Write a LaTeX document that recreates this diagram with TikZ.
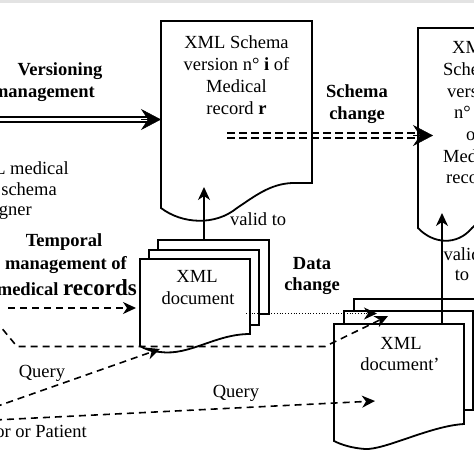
\documentclass[tikz,border=0pt]{standalone}
\usepackage{fontspec}
\setmainfont{Liberation Serif}
\usetikzlibrary{arrows.meta,calc}
\newcommand\myfs{\fontsize{18.5}{22}\selectfont}
\newcommand\mybigfs{\fontsize{23}{22}\selectfont}
\tikzset{
  outl/.style={line width=1.8pt, fill=white, draw=black, line join=miter},
  txt/.style={inner sep=0pt, font=\myfs, anchor=base},
  btxt/.style={inner sep=0pt, font=\myfs\bfseries, anchor=base},
  dashln/.style={line width=1.6pt, dash pattern=on 7pt off 5pt},
  dotln/.style={line width=1pt, dash pattern=on 1pt off 1.8pt},
  smalltip/.style={-{Stealth[length=13pt,width=12pt,inset=4pt]}},
  bigtip/.style={-{Stealth[length=20pt,width=21pt,inset=7pt]}},
}
\begin{document}
\begin{tikzpicture}[x=1pt,y=-1pt]
\useasboundingbox (0,0) rectangle (474,474);
\clip (0,0) rectangle (474,474);
\fill[gray!22] (0,0) rectangle (474,3);

% ---------- schema document i ----------
\draw[outl] (161,21) -- (312,21) -- (312,183) -- (292,183)
  .. controls (270,184) and (255,196) .. (237,208)
  .. controls (215,226) and (182,224) .. (161,208) -- cycle;
% ---------- schema document i+1 ----------
\draw[outl] (418,28) -- (526,28) -- (526,203) -- (512,203)
  .. controls (496,204) and (485,216) .. (472,228)
  .. controls (457,246) and (433,244) .. (418,228) -- cycle;

% ---------- XML document stack ----------
\draw[outl] (158,240) rectangle (269,314);
\draw[outl] (149,250) rectangle (259,325);
\draw[outl] (140,259) -- (250,259) -- (250,334)
  .. controls (215,334) and (190,356) .. (160,352)
  .. controls (150,351) and (145,349) .. (140,346) -- cycle;

% ---------- XML document' stack ----------
\draw[outl] (354,299) rectangle (484,398);
\draw[outl] (344,311) rectangle (473,410);
\draw[outl] (334,324) -- (464,324) -- (464,424)
  .. controls (430,426) and (385,450) .. (365,449)
  .. controls (352,448) and (342,445) .. (334,441) -- cycle;

% ---------- texts ----------
\node[txt] (s1a) at (236.5,48) {XML Schema};
\node[txt] (s1b) at (236.5,70) {version n° \textbf{i} of};
\node[txt] (s1c) at (236.5,92) {Medical};
\node[txt] (s1d) at (236.5,114) {record \textbf{r}};

\node[txt,anchor=base west] (s2a) at (452,53) {XML};
\node[txt,anchor=base west] (s2b) at (443,75) {Schema};
\node[txt,anchor=base west] (s2c) at (447,97) {version};
\node[txt,anchor=base west] (s2d) at (454,118) {n°};
\node[txt,anchor=base west] (s2e) at (466,140) {of};
\node[txt,anchor=base west] (s2f) at (443,162) {Medical};
\node[txt,anchor=base west] (s2g) at (446,183) {record \textbf{r}};

\node[txt] (d1a) at (197,282) {XML};
\node[txt] (d1b) at (198,304) {document};
\node[txt] (d2a) at (401,349) {XML};
\node[txt] (d2b) at (400,370) {document’};

\node[txt,anchor=base west] (val1) at (230,225) {valid to};
\node[txt] (val2a) at (462,260) {valid};
\node[txt] (val2b) at (462,280) {to};

\node[btxt] (vm1) at (60,75) {Versioning};
\node[btxt,anchor=base east] (vm2) at (95,97) {management};

\node[txt,anchor=base east] (ds1) at (69,174) {L medical};
\node[txt,anchor=base east] (ds2) at (57,195) {schema};
\node[txt,anchor=base east] (ds3) at (32,215) {gner};

\node[btxt] (sc1) at (357,97) {Schema};
\node[btxt] (sc2) at (357,119) {change};

\node[btxt] (dc1) at (312,269) {Data};
\node[btxt] (dc2) at (312,290) {change};

\node[btxt] (tm1) at (64,246) {Temporal};
\node[btxt,anchor=base east] (tm2) at (127,269) {management of};
\node[btxt,anchor=base east] (tm3) at (137,295) {medical {\mybigfs records}};

\node[txt] (q1) at (42,377) {Query};
\node[txt] (q2) at (236,397) {Query};
\node[txt,anchor=base east] (dp) at (87,437) {Doctor or Patient};

% ---------- connector end points ----------
\coordinate (vstart) at (-5,119.5);
\coordinate (vtip) at (161,119.5);
\coordinate (sstart) at (227,135.5);
\coordinate (stip) at (433,135.5);
\coordinate (d1top) at (204,240);
\coordinate (v1tip) at (204,187);
\coordinate (d2top) at (442,323);
\coordinate (v2tip) at (442,213);
\coordinate (dcs) at (246,313.5);
\coordinate (dce) at (377,313.5);
\coordinate (tin) at (8,308);
\coordinate (ttip) at (136,308);
\coordinate (pa) at (-5,320);
\coordinate (pb) at (17,346.5);
\coordinate (pc) at (325,346.5);
\coordinate (ptip) at (388,316);
\coordinate (qa) at (-5,407);
\coordinate (qatip) at (160,349);
\coordinate (qb) at (-5,420);
\coordinate (qbtip) at (375,401);

% ---------- connectors ----------
\draw[line width=1.9pt, double distance=3.2pt, shorten >=13pt] (vstart) -- (vtip);
\draw[bigtip, line width=0.5pt] ($(vtip)+(-20,0)$) -- (vtip);

\draw[line width=1.9pt, dash pattern=on 8pt off 4pt, shorten >=12pt]
  ($(sstart)+(0,-2.2)$) -- ($(stip)+(0,-2.2)$);
\draw[line width=1.9pt, dash pattern=on 8pt off 4pt, shorten >=12pt]
  ($(sstart)+(0,2.2)$) -- ($(stip)+(0,2.2)$);
\draw[bigtip, line width=0.5pt] ($(stip)+(-20,0)$) -- (stip);

\draw[line width=1.7pt, smalltip] (d1top) -- (v1tip);
\draw[line width=1.7pt, smalltip] (d2top) -- (v2tip);

\draw[dotln, smalltip] (dcs) -- (dce);
\draw[dashln, smalltip] (tin) -- (ttip);
\draw[dashln, smalltip] (pa) -- (pb) -- (pc) -- (ptip);
\draw[dashln, smalltip] (qa) -- (qatip);
\draw[dashln, smalltip] (qb) -- (qbtip);
\end{tikzpicture}
\end{document}
